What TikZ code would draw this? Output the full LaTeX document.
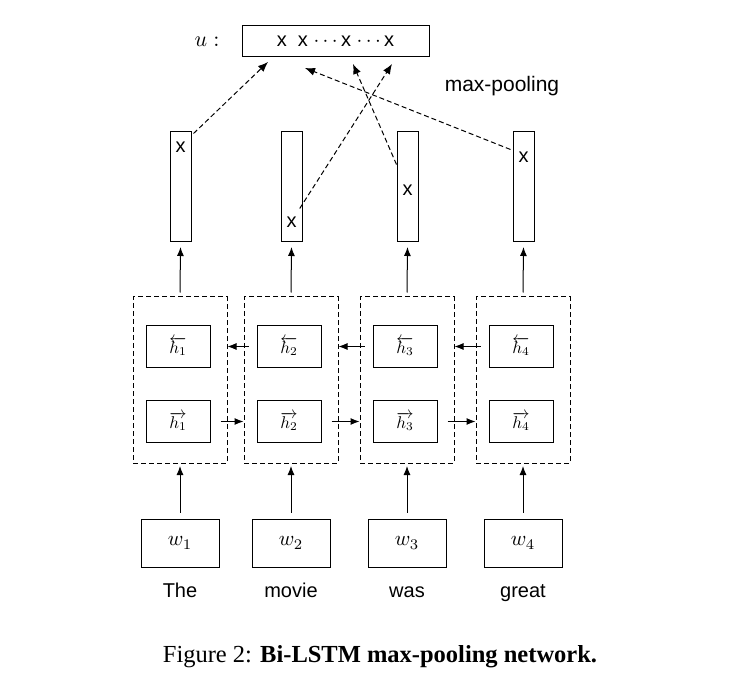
\documentclass[tikz,border=0pt]{standalone}
\usepackage{fontspec}
\setmainfont{Liberation Serif}
\newfontfamily\dsans{Liberation Sans}
\usetikzlibrary{arrows.meta}
\begin{document}
\begin{tikzpicture}[x=1pt,y=-1pt,
  bar/.style={draw,line width=1pt,minimum width=21pt,minimum height=110pt,inner sep=0pt},
  dbox/.style={draw,dash pattern=on 5pt off 3pt,line width=1pt,minimum width=94pt,minimum height=166pt,inner sep=0pt},
  hbox/.style={draw,line width=1pt,minimum width=64pt,minimum height=42pt,inner sep=0pt},
  wbox/.style={draw,line width=1pt,minimum width=78pt,minimum height=48pt,inner sep=0pt},
  lab/.style={font=\dsans\fontsize{20}{20}\selectfont,inner sep=0pt},
  arr/.style={-{Latex[length=9pt,width=7pt]},line width=1pt},
  darr/.style={-{Latex[length=10pt,width=8pt]},dash pattern=on 5pt off 3pt,line width=1pt}]
\useasboundingbox (0,0) rectangle (732,690);
\node[draw,line width=1pt,minimum width=187pt,minimum height=31pt,inner sep=0pt,lab] (u) at (335.5,41.5) {x\ \ x\ $\cdots$\,x\ $\cdots$\,x};
\node (ul) at (207,42) {\scalebox{2.2}{$u:$}};
\node[font=\dsans\fontsize{21}{21}\selectfont,inner sep=0pt] (mp) at (502,86) {max-pooling};
\foreach \i/\x/\xy in {1/180.5/147,2/291.5/222,3/407.5/190,4/523.5/157}{
  \node[bar] (b\i) at (\x,187) {};
  \node[lab] (x\i) at (\x,\xy) {x};
  \node[dbox] (d\i) at (\x-0.5,380) {};
  \node[hbox] (hb\i) at (\x-2.5,346.5) {\scalebox{1.7}{$\overleftarrow{h_\i}$}};
  \node[hbox] (hf\i) at (\x-2.5,421.5) {\scalebox{1.7}{$\overrightarrow{h_\i}$}};
  \node[wbox] (w\i) at (\x-0.5,543) {\scalebox{2.1}{$w_\i$}};
  \draw[arr] (w\i.north) ++(0,-6) -- (d\i.south |- 0,466);
  \draw[arr] (d\i.north) ++(0,-4) -- (b\i.south |- 0,247);
}
\node[lab,anchor=base] (t1) at (180,597) {The};
\node[lab,anchor=base] (t2) at (291,597) {movie};
\node[lab,anchor=base] (t3) at (407,597) {was};
\node[lab,anchor=base] (t4) at (523,597) {great};
\foreach \a/\b in {1/2,2/3,3/4}{
  \draw[arr] (hf\a.east) ++(10,0) -- (d\b.west |- hf\a.east);
  \draw[arr] (hb\b.west) ++(-8,0) -- (d\a.east |- hb\b.west);
}
\draw[darr] (b1.north east) ++(2,2) -- (268,62);
\draw[darr] (x2.north east) ++(3,-8) -- (392,64);
\draw[darr] (b3.north west) ++(0,33) -- (353,64);
\draw[darr] (b4.north west) ++(-2,18) -- (305,68);
\node[font=\fontsize{24.5}{24.5}\selectfont] (cap) at (380,657) {Figure 2: \textbf{Bi-LSTM max-pooling network.}};
\end{tikzpicture}
\end{document}
